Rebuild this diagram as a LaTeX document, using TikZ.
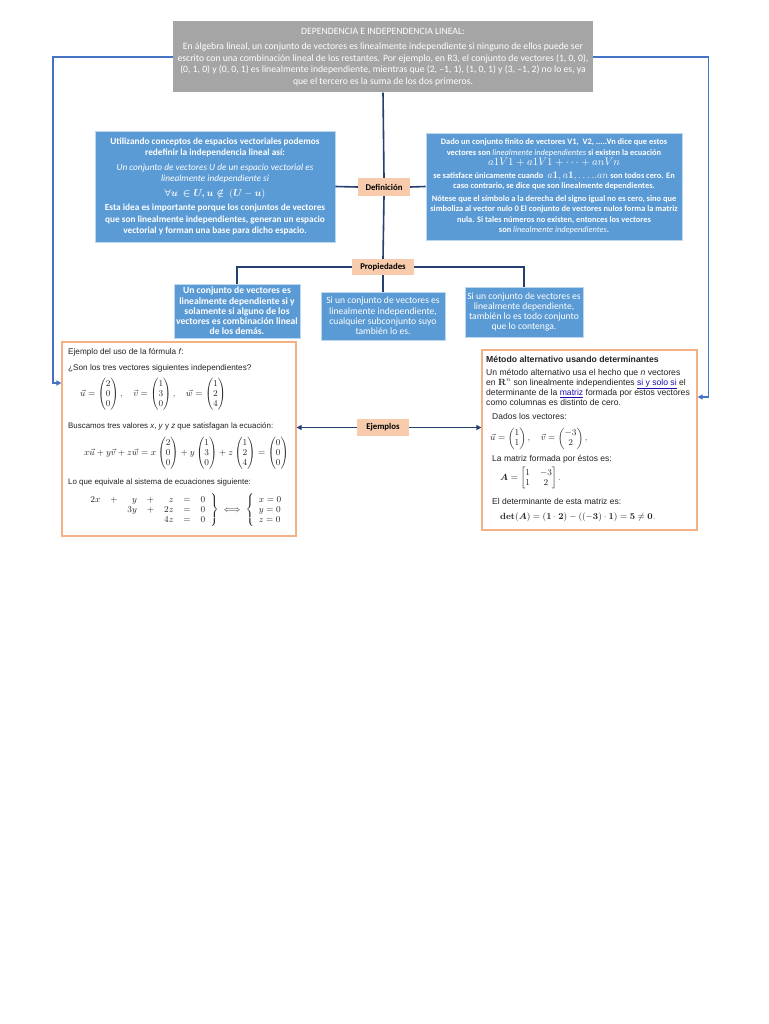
\documentclass[tikz,border=0pt]{standalone}
\usepackage{amsmath,amssymb}
\usepackage[no-math]{fontspec}
\setmainfont{Carlito}
\newfontfamily\arialf{Liberation Sans}
\usetikzlibrary{arrows.meta}
\definecolor{boxblue}{HTML}{5B9BD5}
\definecolor{topgray}{HTML}{A5A5A5}
\definecolor{peach}{HTML}{F8CBAD}
\definecolor{orangeb}{HTML}{F4B183}
\definecolor{navy}{HTML}{25406E}
\definecolor{outblue}{HTML}{4472C4}
\definecolor{linkblue}{HTML}{1A0DAB}
\definecolor{extext}{HTML}{222222}
\newcommand{\lnk}[1]{\textcolor{linkblue}{\underline{#1}}}
\newcommand{\detline}{$\mathbf{det}(\boldsymbol{A})=(\mathbf{1}\cdot\mathbf{2})-((-\mathbf{3})\cdot\mathbf{1})=\mathbf{5}\neq\mathbf{0}.$}
\newcommand{\matA}{$\boldsymbol{A}=\begin{bmatrix}1&-3\\1&2\end{bmatrix}.$}
\newcommand{\vecsR}{$\vec u=\begin{pmatrix}1\\1\end{pmatrix},\quad \vec v=\begin{pmatrix}-3\\2\end{pmatrix},$}
\newcommand{\vecsL}{$\vec u=\begin{pmatrix}2\\0\\0\end{pmatrix},\quad \vec v=\begin{pmatrix}1\\3\\0\end{pmatrix},\quad \vec w=\begin{pmatrix}1\\2\\4\end{pmatrix}$}
\newcommand{\eqL}{$x\vec u+y\vec v+z\vec w=x\begin{pmatrix}2\\0\\0\end{pmatrix}+y\begin{pmatrix}1\\3\\0\end{pmatrix}+z\begin{pmatrix}1\\2\\4\end{pmatrix}=\begin{pmatrix}0\\0\\0\end{pmatrix}$}
\newcommand{\sysL}{$\left.\begin{array}{rcrcrcl} 2x &+& y &+& z &=& 0\\ && 3y &+& 2z &=& 0\\ &&&& 4z &=& 0 \end{array}\right\}\iff\left\{\begin{array}{l} x=0\\ y=0\\ z=0\end{array}\right.$}
\newcommand{\forallU}{$\boldsymbol{\forall u}\ \boldsymbol{\in U, u \notin}\ (\boldsymbol{U}-\boldsymbol{u})$}
\tikzset{
  topbox/.style={fill=topgray, text=white, minimum width=420pt, minimum height=71pt, align=center, inner sep=0pt, font=\fontsize{9.7}{11.5}\selectfont},
  bluebox/.style={fill=boxblue, draw=white!60!boxblue, line width=0.6pt, text=white, align=center, inner sep=0pt},
  lbl/.style={fill=peach, text=black, inner sep=0pt, font=\bfseries\fontsize{8.8}{10}\selectfont},
  exbox/.style={draw=orangeb, line width=1.2pt, fill=white, inner sep=0pt},
  extxt/.style={anchor=west, inner sep=0pt, text=extext, font=\arialf\fontsize{8.2}{10}\selectfont},
  rxtxt/.style={anchor=west, inner sep=0pt, text=extext, font=\arialf\fontsize{8.6}{10}\selectfont},
  exmath/.style={anchor=west, inner sep=0pt, text=extext, font=\fontsize{9}{10}\selectfont},
  conn/.style={draw=navy, line width=1.6pt},
  outconn/.style={draw=outblue, line width=1.4pt, -{Triangle[length=5pt,width=5pt]}},
  ejconn/.style={draw=navy, line width=1.6pt, -{Triangle[length=5pt,width=5pt]}}
}
\begin{document}
\begin{tikzpicture}[x=1pt,y=-1pt]
\useasboundingbox[fill=white] (0,0) rectangle (768,1024);

% top box
\node[topbox] (top) at (383,57) {DEPENDENCIA E INDEPENDENCIA LINEAL:\\[4pt]
En álgebra lineal, un conjunto de vectores es linealmente independiente si ninguno de ellos puede ser\\
escrito con una combinación lineal de los restantes. Por ejemplo, en R3, el conjunto de vectores (1, 0, 0),\\
(0, 1, 0) y (0, 0, 1) es linealmente independiente, mientras que (2, –1, 1), (1, 0, 1) y (3, –1, 2) no lo es, ya\\
que el tercero es la suma de los dos primeros.};

% definition boxes
\node[bluebox, minimum width=240pt, minimum height=111pt, font=\fontsize{9.3}{11.5}\selectfont] (lb) at (215,186.5) {%
\textbf{Utilizando conceptos de espacios vectoriales podemos}\\
\textbf{redefinir la independencia lineal así:}\\[3pt]
\textit{Un conjunto de vectores U de un espacio vectorial es}\\
\textit{linealmente independiente si}\\[3pt]
{\fontsize{10}{12}\selectfont\forallU}\\[3pt]
\textbf{Esta idea es importante porque los conjuntos de vectores}\\
\textbf{que son linealmente independientes, generan un espacio}\\
\textbf{vectorial y forman una base para dicho espacio.}};

\node[bluebox, minimum width=256pt, minimum height=107pt, font=\bfseries\fontsize{8.4}{10.5}\selectfont] (rb) at (554,186.5) {%
Dado un conjunto finito de vectores V1, \ V2, .....Vn dice que estos\\
vectores son \textit{\mdseries linealmente independientes} si existen la ecuación\\
{\fontsize{10.5}{12}\selectfont $a1V1 + a1V1 + \cdots + anVn$}\\[2pt]
se satisface únicamente cuando \ {\fontsize{10}{10}\selectfont$a\mathbf{1}, a\mathbf{1}, \ldots ..an$} son todos cero. En\\
caso contrario, se dice que son linealmente dependientes.\\[2pt]
Nótese que el símbolo a la derecha del signo igual no es cero, sino que\\
simboliza al vector nulo 0 El conjunto de vectores nulos forma la matriz\\
nula. Si tales números no existen, entonces los vectores\\
son \textit{\mdseries linealmente independientes}.};

\node[lbl, minimum width=52pt, minimum height=18pt] (def) at (384,187) {Definición};
\node[lbl, minimum width=62pt, minimum height=16pt] (prop) at (383,267) {Propiedades};

% property boxes
\node[bluebox, minimum width=126pt, minimum height=54pt, font=\bfseries\fontsize{9.6}{10.3}\selectfont] (p1) at (237,311) {%
Un conjunto de vectores es\\ linealmente dependiente si y\\ solamente si alguno de los\\ vectores es combinación lineal\\ de los demás.};
\node[bluebox, minimum width=124pt, minimum height=48pt, font=\fontsize{9.6}{10.3}\selectfont] (p2) at (383,316) {%
Si un conjunto de vectores es\\ linealmente independiente,\\ cualquier subconjunto suyo\\ también lo es.};
\node[bluebox, minimum width=118pt, minimum height=50pt, font=\fontsize{9.6}{10.3}\selectfont] (p3) at (524,312) {%
Si un conjunto de vectores es\\ linealmente dependiente,\\ también lo es todo conjunto\\ que lo contenga.};

% example boxes
\node[exbox, minimum width=234pt, minimum height=194pt] (lex) at (179,439) {};
\node[exbox, minimum width=215pt, minimum height=180pt] (rex) at (589.5,440) {};

\node[lbl, minimum width=52pt, minimum height=17pt] (ej) at (383,427.5) {Ejemplos};

% left example contents
\node[extxt] (l1) at (68,352) {Ejemplo del uso de la fórmula \textit{f}:};
\node[extxt] (l2) at (68,368) {¿Son los tres vectores siguientes independientes?};
\node[exmath] (l3) at (80,394) {\vecsL};
\node[extxt, font=\arialf\fontsize{7.9}{10}\selectfont] (l4) at (68,426) {Buscamos tres valores \textit{x}, \textit{y} y \textit{z} que satisfagan la ecuación:};
\node[exmath] (l5) at (84,453) {\eqL};
\node[extxt, font=\arialf\fontsize{7.9}{10}\selectfont] (l6) at (68,482) {Lo que equivale al sistema de ecuaciones siguiente:};
\node[exmath] (l7) at (84,510) {\sysL};

% right example contents
\node[rxtxt, font=\arialf\bfseries\fontsize{8.7}{10}\selectfont] (r1) at (486,359) {Método alternativo usando determinantes};
\node[rxtxt, anchor=north west, align=left] (r2) at (486,369) {Un método alternativo usa el hecho que \textit{n} vectores\\
en $\mathbf{R}^n$ son linealmente independientes \lnk{si y solo si} el\\
determinante de la \lnk{matriz} formada por estos vectores\\
como columnas es distinto de cero.};
\node[extxt, font=\arialf\fontsize{8.5}{10}\selectfont] (r3) at (492,416) {Dados los vectores:};
\node[exmath] (r4) at (490,438.5) {\vecsR};
\node[extxt, font=\arialf\fontsize{8.5}{10}\selectfont] (r5) at (492,459) {La matriz formada por éstos es:};
\node[exmath] (r6) at (500,478) {\matA};
\node[extxt, font=\arialf\fontsize{8.5}{10}\selectfont] (r7) at (492,501) {El determinante de esta matriz es:};
\node[exmath] (r8) at (500,517) {\detline};

% connectors
\draw[conn] (top.south) -- (def.north);
\draw[conn] (def.south) -- (prop.north);
\draw[conn] (prop.south) -- (p2.north);
\draw[conn] (lb.east) -- (def.west);
\draw[conn] (def.east) -- (rb.west);
\draw[conn] (prop.west) -| (p1.north);
\draw[conn] (prop.east) -| (p3.north);
\draw[ejconn] (ej.west) -- (ej.west -| lex.east);
\draw[ejconn] (ej.east) -- (ej.east -| rex.west);

\coordinate (lin) at (lex.west |- 0,383);
\coordinate (rin) at (rex.east |- 0,397);
\draw[outconn] (top.west) -- ++(-120,0) |- (lin);
\draw[outconn] (top.east) -- ++(115,0) |- (rin);
\end{tikzpicture}
\end{document}
